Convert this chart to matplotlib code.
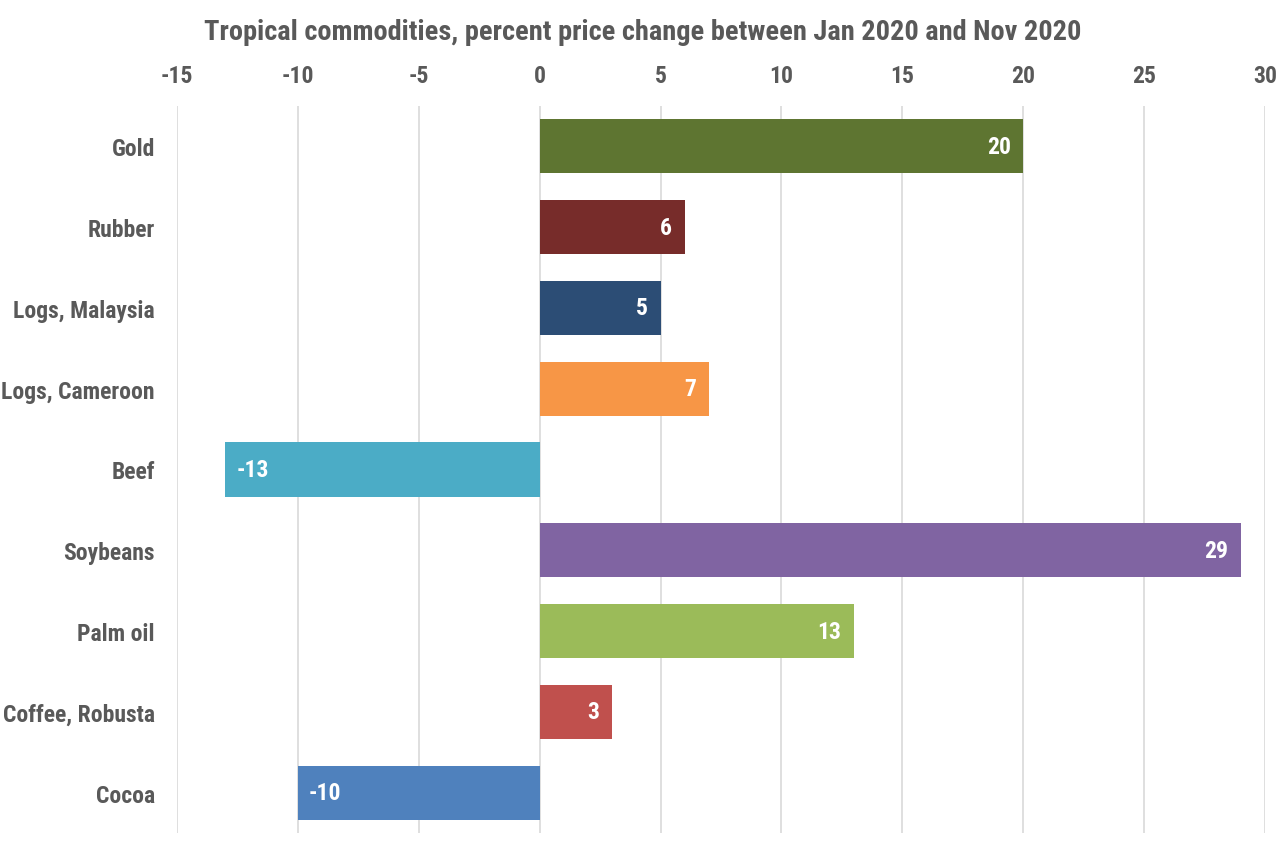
import matplotlib
matplotlib.use("Agg")
import matplotlib.pyplot as plt
from matplotlib import font_manager

names = {f.name for f in font_manager.fontManager.ttflist}
fam = None
stretch = 'normal'
for cand in ["Roboto Condensed", "Archivo Narrow", "Liberation Sans Narrow", "Barlow Condensed"]:
    if cand in names:
        fam = cand
        break
if fam is None:
    fam = "DejaVu Sans"
    stretch = 'condensed'
plt.rcParams['font.family'] = [fam, 'DejaVu Sans']
plt.rcParams['font.stretch'] = stretch

title = "Tropical commodities, percent price change between Jan 2020 and Nov 2020"
categories = ["Gold", "Rubber", "Logs, Malaysia", "Logs, Cameroon", "Beef",
              "Soybeans", "Palm oil", "Coffee, Robusta", "Cocoa"]
values = [20, 6, 5, 7, -13, 29, 13, 3, -10]
colors = ["#5E7531", "#772C2A", "#2C4D75", "#F79646", "#4BACC6",
          "#8064A2", "#9BBB59", "#C0504D", "#4F81BD"]
xticks = [-15, -10, -5, 0, 5, 10, 15, 20, 25, 30]

TXT = "#595959"
FS = 17
fig = plt.figure(figsize=(12.8, 8.53), dpi=100)
ax = fig.add_axes([177/1280, 1-834/853, 1088/1280, 727/853])

ypos = list(range(len(categories)))
ax.barh(ypos, values, height=0.67, color=colors, zorder=3)
ax.set_ylim(len(categories)-0.5, -0.5)
ax.set_xlim(-15, 30)
ax.set_xticks(xticks)
ax.set_xticklabels([str(t) for t in xticks])
ax.xaxis.tick_top()
ax.tick_params(axis='x', length=0, pad=14, labelsize=FS, labelcolor=TXT)
ax.tick_params(axis='y', length=0, pad=16, labelsize=FS, labelcolor=TXT)
ax.set_yticks(ypos)
ax.set_yticklabels(categories)
for lab in ax.get_xticklabels() + ax.get_yticklabels():
    lab.set_fontweight('bold')
ax.grid(axis='x', color='#D9D9D9', linewidth=1.2, zorder=0)
for s in ax.spines.values():
    s.set_visible(False)

for y, v in zip(ypos, values):
    if v >= 0:
        ax.annotate(str(v), (v, y), xytext=(-9, 0), textcoords='offset points',
                    ha='right', va='center', color='white', fontsize=FS,
                    fontweight='bold', zorder=4)
    else:
        ax.annotate(str(v), (v, y), xytext=(8, 0), textcoords='offset points',
                    ha='left', va='center', color='white', fontsize=FS,
                    fontweight='bold', zorder=4)

fig.text(643/1280, 1-33/853, title, ha='center', va='center', fontsize=20.4,
         fontweight='bold', color=TXT)

fig.savefig("out.png", dpi=100, facecolor='white')
